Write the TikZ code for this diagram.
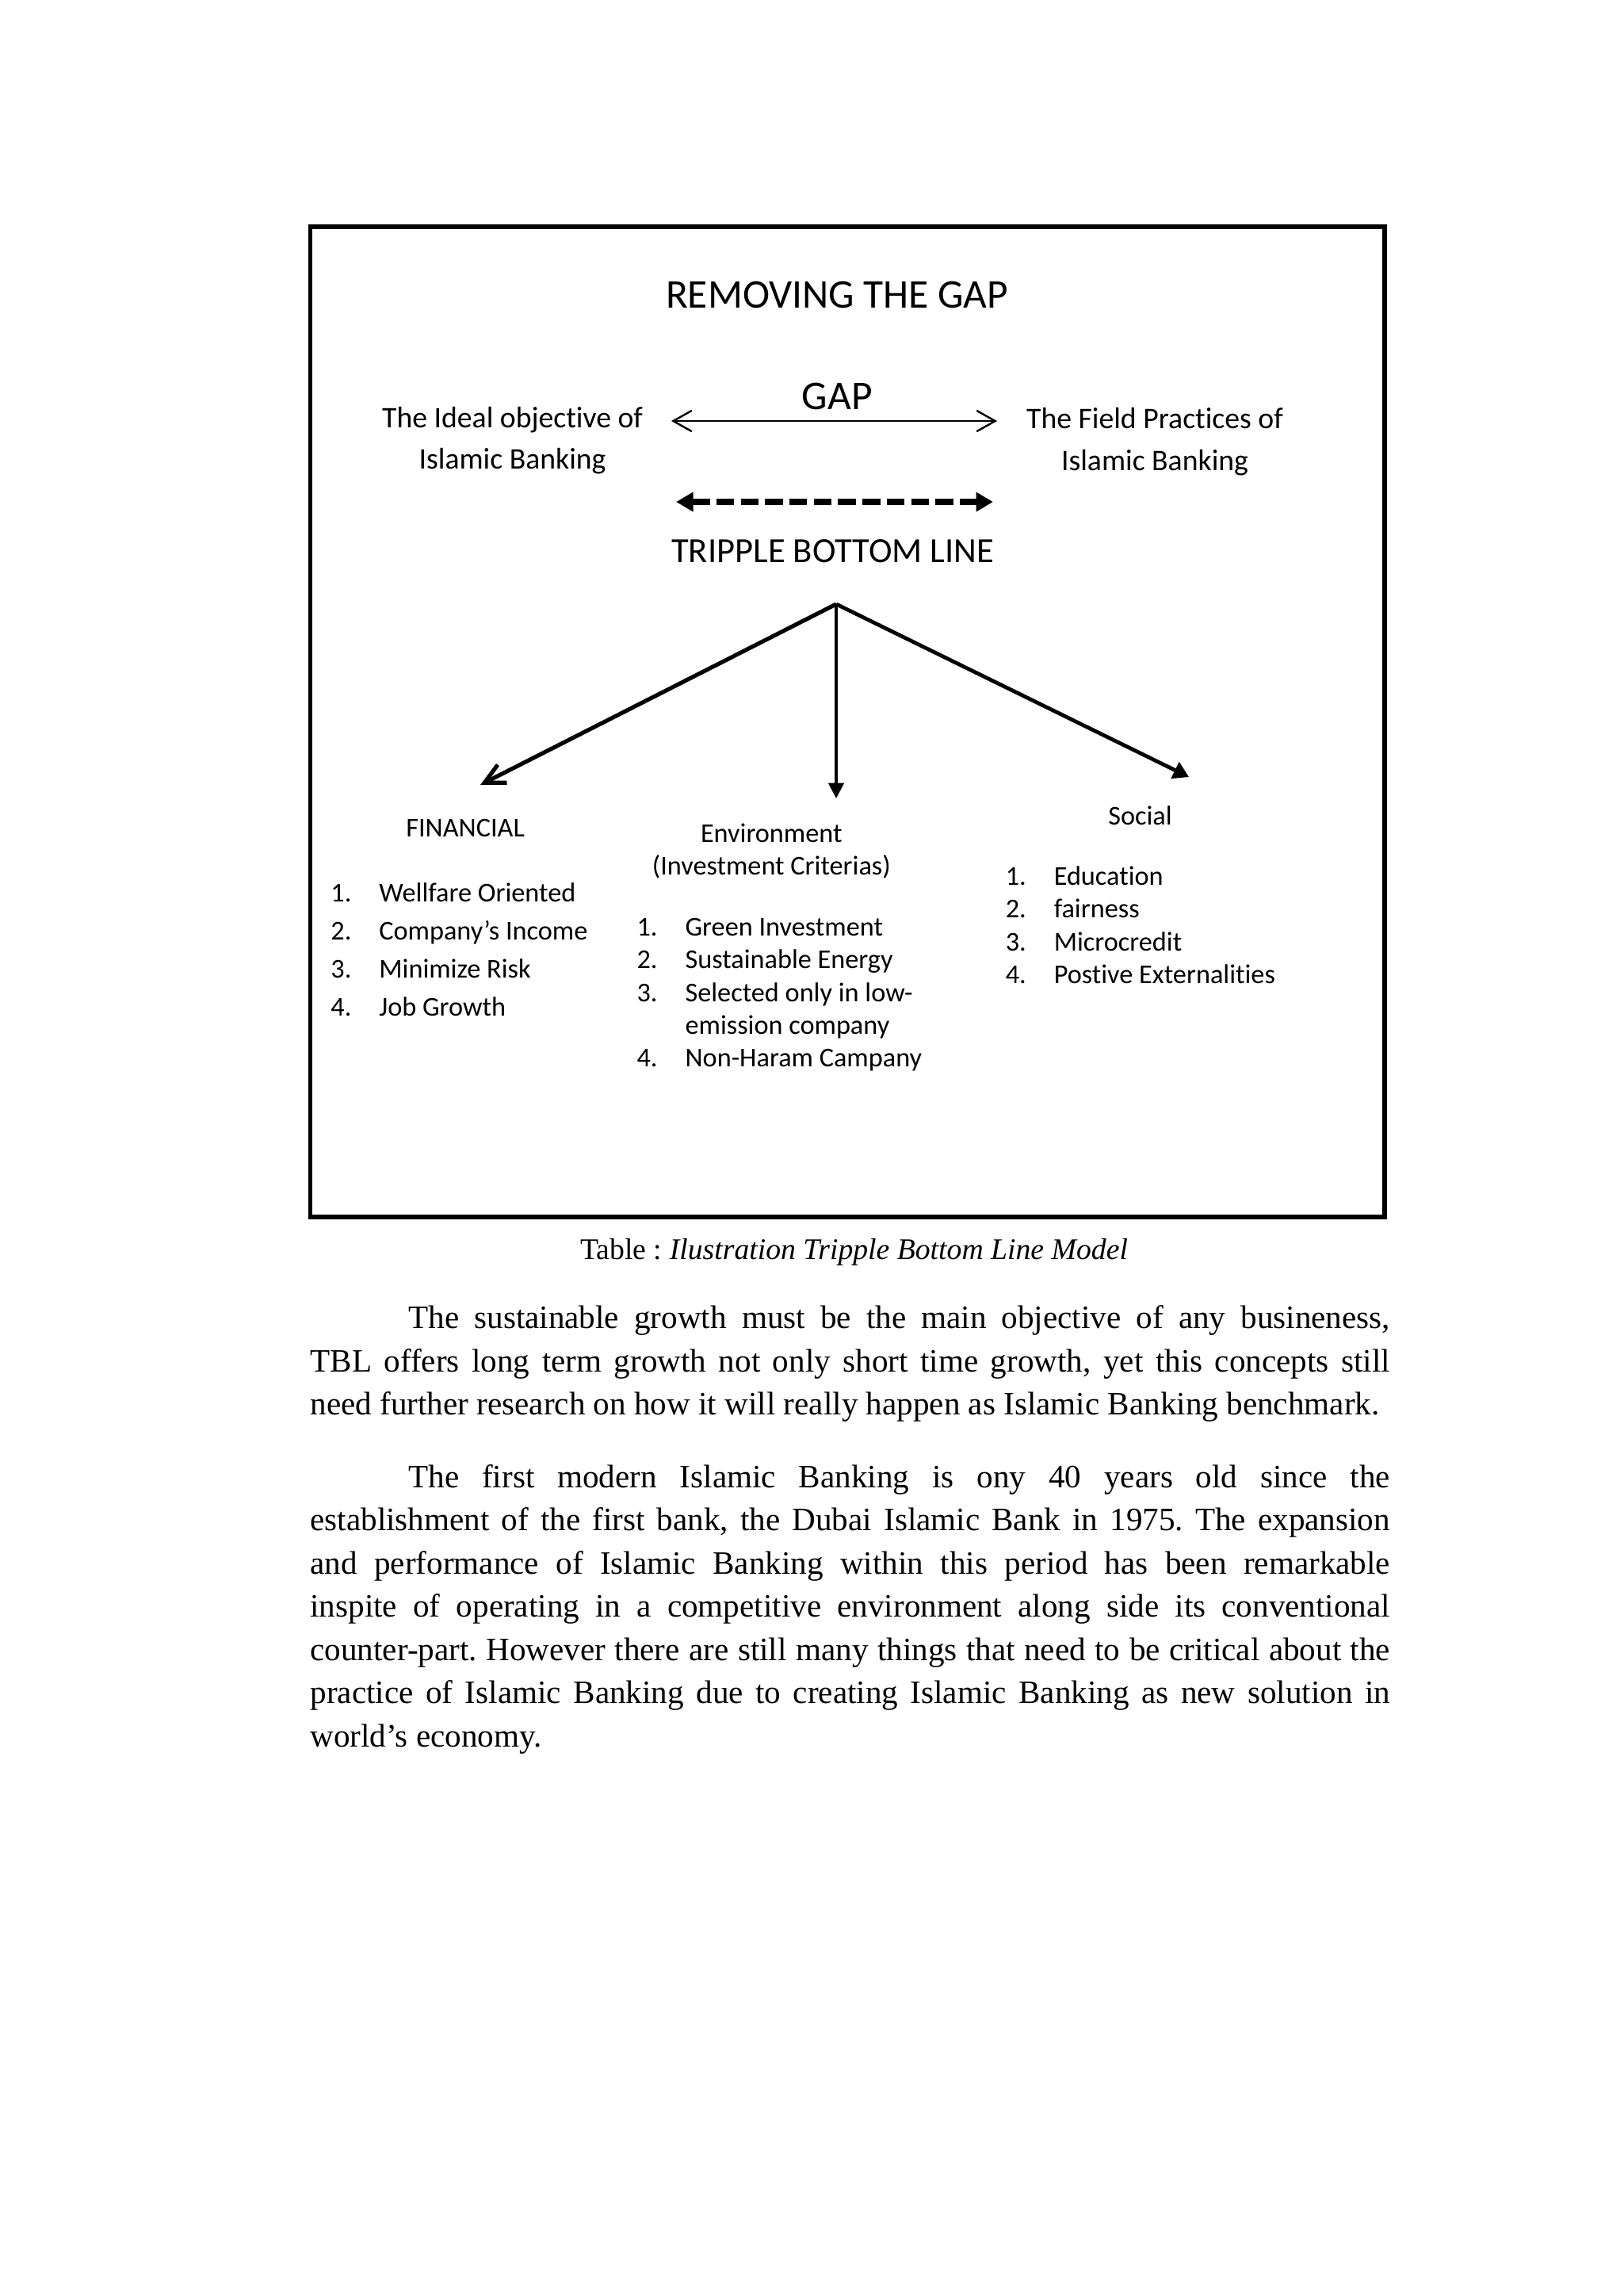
\documentclass[tikz,border=0pt]{standalone}
\usepackage{fontspec}
\setmainfont{Liberation Serif}
\newfontfamily\calibri[Ligatures=NoCommon]{Carlito}
\usetikzlibrary{arrows.meta,positioning}
\frenchspacing

\begin{document}
\begin{tikzpicture}[
  every node/.style={inner sep=0pt, outer sep=0pt},
  head/.style={font=\calibri\fontsize{15}{18}\selectfont, anchor=base},
  side/.style={font=\calibri\fontsize{11}{15.4}\selectfont, align=center, anchor=base},
  sub/.style={font=\calibri\fontsize{10}{11.9}\selectfont, align=center, anchor=base},
  lst/.style={anchor=base west},
  body/.style={font=\fontsize{12}{15.9}\selectfont, text width=13.97cm, align=justify, anchor=base west},
  gaparr/.style={{Straight Barb[length=2.4mm,width=2.7mm]}-{Straight Barb[length=2.4mm,width=2.7mm]}, line width=0.7pt},
  tblarr/.style={{Triangle[length=2.2mm,width=2.4mm]}-{Triangle[length=2.2mm,width=2.4mm]}, line width=2.1pt, dash pattern=on 2.3mm off 0.85mm},
]
\useasboundingbox (0,0) rectangle (21,-29.695);
% frame of the model
\draw[line width=1.6pt] (4.015,-2.933) rectangle (17.914,-15.740);

\node[head] (title) at (10.83,-3.979) {REMOVING THE GAP};
\node[head] (gap) at (10.83,-5.301) {GAP};
% two-line labels: base is the last line
\node[side] (ideal) at (6.63,-6.070) {The Ideal objective of\\Islamic Banking};
\node[side] (field) at (14.94,-6.081) {The Field Practices of\\Islamic Banking};
\node[head, font=\calibri\fontsize{13}{16}\selectfont] (tbl) at (10.775,-7.28) {TRIPPLE BOTTOM LINE};

\coordinate (gapL) at (8.685,-5.445);
\coordinate (gapR) at (12.900,-5.445);
\coordinate (tblL) at (8.747,-6.491);
\coordinate (tblR) at (12.848,-6.491);
\draw[gaparr] (gapL) -- (gapR);
\draw[tblarr] (tblL) -- (tblR);

% the three branches
\coordinate (apex) at (10.818,-7.813);
\coordinate (finTip) at (6.214,-10.151);
\coordinate (envTip) at (10.818,-10.326);
\coordinate (socTip) at (15.381,-10.049);
\draw[-{Straight Barb[length=2.6mm,width=2.6mm]}, line width=1.5pt] (apex) -- (finTip);
\draw[-{Triangle[length=2mm,width=2mm]}, line width=1pt] (apex) -- (envTip);
\draw[-{Triangle[length=2mm,width=2.3mm]}, line width=1.4pt] (apex) -- (socTip);

\node[sub] (fin) at (6.02,-10.818) {FINANCIAL};
\node[sub] (env) at (9.98,-11.316) {Environment\\(Investment Criterias)};
\node[sub] (soc) at (14.75,-10.674) {Social};

\node[lst, font=\calibri\fontsize{10}{14}\selectfont] (finList) at (4.28,-11.664) {%
  \begin{tabular}[t]{@{}p{6.25mm}@{}l@{}}
  1. & Wellfare Oriented\\
  2. & Company’s Income\\
  3. & Minimize Risk\\
  4. & Job Growth
  \end{tabular}};
\node[lst, font=\calibri\fontsize{10}{12.1}\selectfont] (envList) at (8.24,-12.10) {%
  \begin{tabular}[t]{@{}p{6.25mm}@{}l@{}}
  1. & Green Investment\\
  2. & Sustainable Energy\\
  3. & Selected only in low-\\
     & emission company\\
  4. & Non-Haram Campany
  \end{tabular}};
\node[lst, font=\calibri\fontsize{10}{12.1}\selectfont] (socList) at (13.01,-11.444) {%
  \begin{tabular}[t]{@{}p{6.25mm}@{}l@{}}
  1. & Education\\
  2. & fairness\\
  3. & Microcredit\\
  4. & Postive Externalities
  \end{tabular}};

% caption and text below
\node[font=\fontsize{11}{13}\selectfont, anchor=base] (caption) at (11.05,-16.29) {Table : \textit{Ilustration Tripple Bottom Line Model}};
\node[body] (para1) at (4.015,-17.18) {\hspace*{1.27cm}The sustainable growth must be the main objective of any busineness,\linebreak
  TBL offers long term growth not only short time growth, yet this concepts still\linebreak
  need further research on how it will really happen as Islamic Banking benchmark.};
\node[body] (para2) at (4.015,-19.24) {\hspace*{1.27cm}The first modern Islamic Banking is ony 40 years old since the\linebreak
  establishment of the first bank, the Dubai Islamic Bank in 1975. The expansion\linebreak
  and performance of Islamic Banking within this period has been remarkable\linebreak
  inspite of operating in a competitive environment along side its conventional\linebreak
  counter-part. However there are still many things that need to be critical about the\linebreak
  practice of Islamic Banking due to creating Islamic Banking as new solution in\linebreak
  world’s economy.};
\end{tikzpicture}
\end{document}
